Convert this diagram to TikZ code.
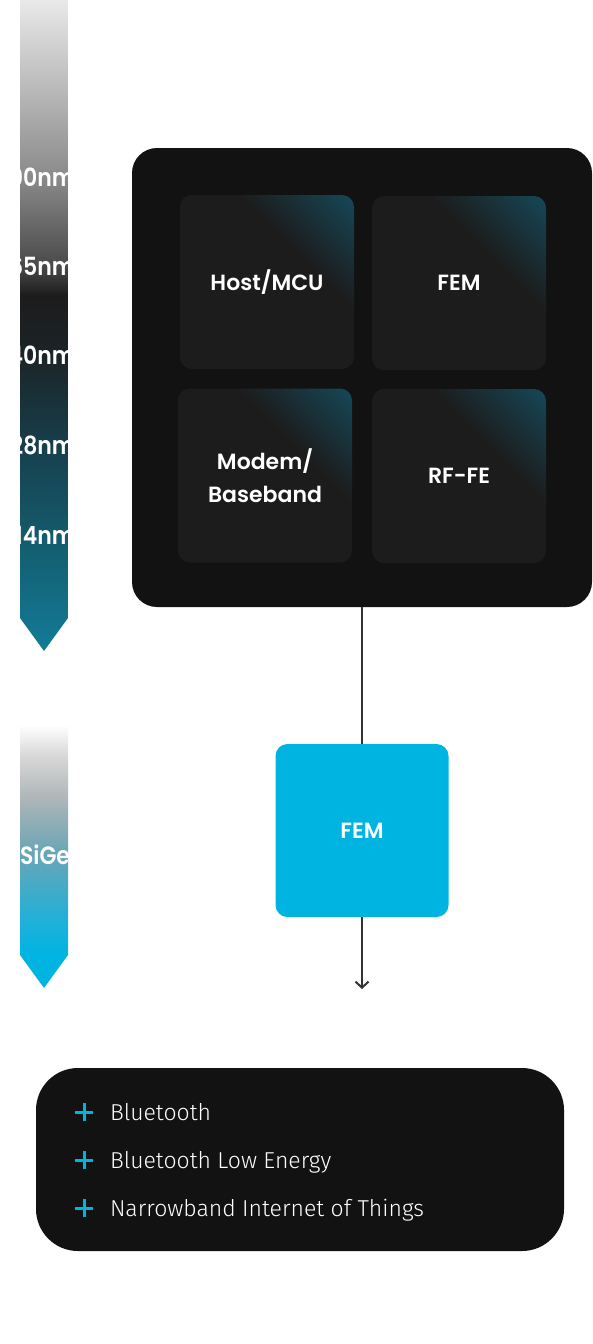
\documentclass[tikz,border=0pt]{standalone}
\usepackage{fontspec}
\setmainfont{Poppins}[BoldFont={Poppins SemiBold}]
\newfontfamily\listfont{Fira Sans Light}
\newfontfamily\barfont{Poppins SemiBold}[FakeStretch=0.88]
\usetikzlibrary{arrows.meta}

\definecolor{socblack}{HTML}{121212}
\definecolor{chipgray}{HTML}{1C1C1C}
\definecolor{chipteal}{HTML}{16495A}
\definecolor{femcyan}{HTML}{00B4E1}
\definecolor{wire}{HTML}{333333}
% node process bar
\definecolor{nmA}{HTML}{E9E9E9}
\definecolor{nmB}{HTML}{8A8A8A}
\definecolor{nmC}{HTML}{4A4A4A}
\definecolor{nmD}{HTML}{1C1C1C}
\definecolor{nmE}{HTML}{1B2427}
\definecolor{nmF}{HTML}{173F4B}
\definecolor{nmG}{HTML}{145A6C}
\definecolor{nmH}{HTML}{127C98}
% SiGe bar
\definecolor{sgA}{HTML}{FFFFFF}
\definecolor{sgB}{HTML}{D8D8D8}
\definecolor{sgC}{HTML}{B0B6B8}
\definecolor{sgD}{HTML}{6AA5B6}
\definecolor{sgE}{HTML}{22B0D8}
\definecolor{sgF}{HTML}{00B4E2}

\pgfdeclareverticalshading{chipglow}{100bp}{color(0bp)=(chipgray); color(62bp)=(chipgray);
  color(86bp)=(chipteal); color(100bp)=(chipteal)}
\pgfdeclareverticalshading{nmbar}{100bp}{color(0bp)=(nmH); color(25bp)=(nmH);
  color(33.9bp)=(nmG); color(40.8bp)=(nmF); color(47.7bp)=(nmE); color(52.3bp)=(nmD);
  color(54.6bp)=(nmC); color(61.4bp)=(nmB); color(75bp)=(nmA); color(100bp)=(nmA)}
\pgfdeclareverticalshading{sigebar}{100bp}{color(0bp)=(sgF); color(31.4bp)=(sgF);
  color(38.2bp)=(sgE); color(50.8bp)=(sgD); color(61.4bp)=(sgC); color(69.2bp)=(sgB);
  color(75bp)=(sgA); color(100bp)=(sgA)}

\begin{document}
\begin{tikzpicture}[x=1pt,y=-1pt,>={Straight Barb[length=6pt,width=13pt]},
		line width=2pt]
		\tikzstyle{every node}=[inner sep=0pt,outer sep=0pt]
		\tikzstyle{tile}=[rounded corners=12pt,minimum width=174pt,minimum height=174pt,
			text=white,align=center,font=\bfseries\fontsize{22}{33}\selectfont]
		\tikzstyle{chip}=[tile,shading=chipglow,shading angle=-45]
		\tikzstyle{nmlabel}=[anchor=base east,text=white,font=\barfont\fontsize{25}{25}\selectfont]
		\tikzstyle{item}=[anchor=base west,text=white,font=\listfont\fontsize{23}{23}\selectfont]
		\tikzstyle{plusline}=[draw=femcyan,line width=3pt]
		
		\useasboundingbox (0,0) rectangle (592,1344);
		
		% process bars
		\shade[shading=nmbar] (20,0) -- (68,0) -- (68,618) -- (44,651) -- (20,618) -- cycle;
		\begin{scope}
			\clip (20,0) -- (68,0) -- (68,618) -- (44,651) -- (20,618) -- cycle;
			\node[nmlabel] (nm90) at (75,186) {90nm};
			\node[nmlabel] (nm65) at (75,275) {65nm};
			\node[nmlabel] (nm40) at (75,364) {40nm};
			\node[nmlabel] (nm28) at (75,454) {28nm};
			\node[nmlabel] (nm14) at (75,544) {14nm};
		\end{scope}
		\shade[shading=sigebar] (20,725) -- (68,725) -- (68,955) -- (44,988) -- (20,955) -- cycle;
		\begin{scope}
			\clip (20,725) -- (68,725) -- (68,955) -- (44,988) -- (20,955) -- cycle;
			\node[nmlabel,anchor=base west] (sige) at (20,864) {SiGe};
		\end{scope}
		
		% SoC block
		\node[fill=socblack,rounded corners=25pt,minimum width=460pt,minimum height=459pt]
			(soc) at (362,377.5) {};
		\node[chip] (host) at (267,282) {Host/MCU};
		\node[chip] (fem) at (459,283) {FEM};
		\node[chip] (modem) at (265,475.5) {Modem/\\Baseband};
		\node[chip] (rffe) at (459,476) {RF-FE};
		
		% external FEM
		\node[tile,fill=femcyan,minimum width=173pt,minimum height=173pt]
			(femchip) at (362,830.5) {FEM};
		\coordinate (out) at (362,989);
		
		\path[draw=wire]
		(soc) edge (femchip)
		(femchip) edge [->] (out);
		
		% applications
		\node[fill=socblack,rounded corners=42pt,minimum width=528pt,minimum height=183pt]
			(apps) at (300,1159.5) {};
		\foreach \y in {1112,1160,1208}
			\draw[plusline] (75,\y) -- (93,\y) (84,\y-9) -- (84,\y+9);
		\node[item] (bt) at (110,1120) {Bluetooth};
		\node[item] (ble) at (110,1168) {Bluetooth Low Energy};
		\node[item] (nbiot) at (110,1216) {Narrowband Internet of Things};
\end{tikzpicture}
\end{document}
